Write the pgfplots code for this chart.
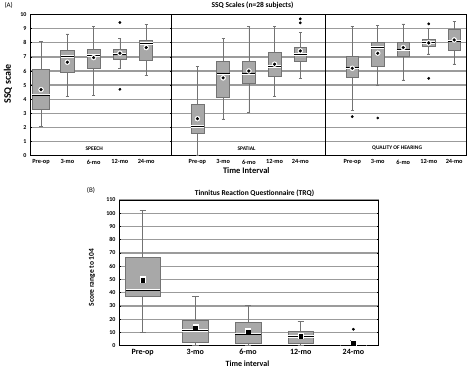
\documentclass[border=0pt]{standalone}
\usepackage{fontspec}
\setmainfont{Carlito}
\usepackage{pgfplots}
\pgfplotsset{compat=1.18}
\usepgfplotslibrary{statistics}
\definecolor{boxfill}{RGB}{168,168,168}
\definecolor{boxdraw}{RGB}{115,115,115}
\definecolor{gridc}{RGB}{155,155,155}
\pgfplotsset{
  common/.style={scale only axis, anchor=south west,
    ymajorgrids, grid style={gridc, line width=1.3pt},
    axis line style={black, line width=0.8pt},
    xtick={0,...,4}, xticklabels={Pre-op,3-mo,6-mo,12-mo,24-mo},
    /pgf/number format/assume math mode=true,
    x tick style={draw=none},
    boxplot/draw direction=y, clip=false},
  topax/.style={common, height=141.2pt, ymin=0, ymax=10, ytick={0,...,10},
    xticklabel style={font=\bfseries\fontsize{6.3}{7}\selectfont, yshift=-0.5pt},
    yticklabel style={font=\bfseries\fontsize{6}{7}\selectfont},
    y tick style={black, line width=0.6pt}, major tick length=2pt},
  bx/.style={fill=boxfill, draw=boxdraw, line width=0.6pt,
    boxplot prepared={#1, whisker extend=0.12,
      every median/.style={draw=black, line width=0.9pt, preaction={draw=white, line width=2.6pt}}}},
  mwhite/.style={only marks, mark=*, mark size=2.5pt, draw=white, fill=white},
  mblack/.style={only marks, mark=*, mark size=1.4pt, black},
  outl/.style={only marks, mark=*, mark size=1.2pt, black},
}
\begin{document}
\begin{tikzpicture}[x=1pt,y=1pt]
\path[use as bounding box] (0,0) rectangle (474,370);
% ---------------- SPEECH
\begin{axis}[topax, at={(30pt,214.3pt)}, width=141.7pt, xmin=-0.42, xmax=4.97]
\addplot[bx={draw position=0, box extend=0.66, lower whisker=2.1, lower quartile=3.26, median=4.3, upper quartile=6.12, upper whisker=8.1}] coordinates {};
\addplot[bx={draw position=1, box extend=0.5, lower whisker=4.18, lower quartile=5.93, median=7.02, upper quartile=7.47, upper whisker=8.63}] coordinates {};
\addplot[bx={draw position=2, box extend=0.5, lower whisker=4.26, lower quartile=6.2, median=7.09, upper quartile=7.54, upper whisker=9.15}] coordinates {};
\addplot[bx={draw position=3, box extend=0.5, lower whisker=6.19, lower quartile=6.8, median=7.19, upper quartile=7.54, upper whisker=8.3}] coordinates {};
\addplot[bx={draw position=4, box extend=0.5, lower whisker=5.7, lower quartile=6.78, median=7.94, upper quartile=8.2, upper whisker=9.29}] coordinates {};
\addplot[outl] coordinates {(3,9.43) (3,4.7)};
\addplot[mwhite] coordinates {(0,4.68) (1,6.62) (2,6.95) (3,7.26) (4,7.66)};
\addplot[mblack] coordinates {(0,4.68) (1,6.62) (2,6.95) (3,7.26) (4,7.66)};
\node[font=\bfseries\fontsize{5.5}{6}\selectfont] at (axis cs:2.02,0.52) {SPEECH};
\end{axis}
% ---------------- SPATIAL
\begin{axis}[topax, at={(171.7pt,214.3pt)}, width=153.8pt, xmin=-1.0, xmax=4.98, yticklabels={}, y tick style={draw=none}]
\addplot[bx={draw position=0, box extend=0.5, lower whisker=0.05, lower quartile=1.6, median=2.06, upper quartile=3.66, upper whisker=6.31}] coordinates {};
\addplot[bx={draw position=1, box extend=0.5, lower whisker=2.6, lower quartile=4.14, median=5.79, upper quartile=6.67, upper whisker=8.3}] coordinates {};
\addplot[bx={draw position=2, box extend=0.5, lower whisker=3.05, lower quartile=5.13, median=5.79, upper quartile=6.71, upper whisker=9.15}] coordinates {};
\addplot[bx={draw position=3, box extend=0.5, lower whisker=4.18, lower quartile=5.6, median=6.31, upper quartile=7.33, upper whisker=9.15}] coordinates {};
\addplot[bx={draw position=4, box extend=0.5, lower whisker=5.48, lower quartile=6.71, median=7.16, upper quartile=7.68, upper whisker=8.72}] coordinates {};
\addplot[outl] coordinates {(4,9.69) (4,9.41)};
\addplot[mwhite] coordinates {(0,2.62) (1,5.51) (2,6.0) (3,6.48) (4,7.42)};
\addplot[mblack] coordinates {(0,2.62) (1,5.51) (2,6.0) (3,6.48) (4,7.42)};
\node[font=\bfseries\fontsize{5.5}{6}\selectfont] at (axis cs:1.91,0.52) {SPATIAL};
\end{axis}
% ---------------- QUALITY OF HEARING
\begin{axis}[topax, at={(325.5pt,214.3pt)}, width=141.2pt, xmin=-1.05, xmax=4.49, yticklabels={}, y tick style={draw=none}]
\addplot[bx={draw position=0, box extend=0.5, lower whisker=3.19, lower quartile=5.56, median=6.22, upper quartile=7.04, upper whisker=9.15}] coordinates {};
\addplot[bx={draw position=1, box extend=0.5, lower whisker=4.96, lower quartile=6.31, median=7.68, upper quartile=8.06, upper whisker=9.24}] coordinates {};
\addplot[bx={draw position=2, box extend=0.5, lower whisker=5.37, lower quartile=7.02, median=7.49, upper quartile=8.06, upper whisker=9.34}] coordinates {};
\addplot[bx={draw position=3, box extend=0.5, lower whisker=7.21, lower quartile=7.78, median=8.01, upper quartile=8.23, upper whisker=9.0}] coordinates {};
\addplot[bx={draw position=4, box extend=0.5, lower whisker=6.5, lower quartile=7.45, median=8.11, upper quartile=8.98, upper whisker=9.53}] coordinates {};
\addplot[outl] coordinates {(0,2.77) (1,2.67) (3,9.34) (3,5.48)};
\addplot[mwhite] coordinates {(0,6.19) (1,7.26) (2,7.66) (3,7.99) (4,8.2)};
\addplot[mblack] coordinates {(0,6.19) (1,7.26) (2,7.66) (3,7.99) (4,8.2)};
\node[font=\bfseries\fontsize{5.5}{6}\selectfont] at (axis cs:1.76,0.52) {QUALITY OF HEARING};
\end{axis}
% ---------------- TRQ
\begin{axis}[common, at={(119pt,24.3pt)}, width=259.7pt, height=145.7pt,
  xmin=-0.45, xmax=4.48, ymin=0, ymax=110, ytick={0,10,...,110},
  xticklabel style={font=\bfseries\fontsize{8}{9}\selectfont, yshift=0pt},
  yticklabel style={font=\bfseries\fontsize{6}{7}\selectfont},
  y tick style={black, line width=0.6pt}, major tick length=2pt]
\addplot[bx={draw position=0, box extend=0.65, lower whisker=10.1, lower quartile=37.2, median=42, upper quartile=67, upper whisker=102.4}] coordinates {};
\addplot[bx={draw position=1, box extend=0.49, lower whisker=0, lower quartile=2.3, median=11.4, upper quartile=19.5, upper whisker=37.2}] coordinates {};
\addplot[bx={draw position=2, box extend=0.49, lower whisker=0, lower quartile=1.5, median=8.85, upper quartile=17.7, upper whisker=30.3}] coordinates {};
\addplot[bx={draw position=3, box extend=0.49, lower whisker=0, lower quartile=1.8, median=6.8, upper quartile=11.1, upper whisker=18.2}] coordinates {};
\addplot[bx={draw position=4, box extend=0.49, lower whisker=0, lower quartile=0, median=0, upper quartile=0.5, upper whisker=3.8}] coordinates {};
\addplot[outl] coordinates {(4,12.4)};
\addplot[only marks, mark=square*, mark size=2.6pt, draw=white, fill=white] coordinates {(0,50.2) (1,14.3) (2,11.2) (3,7.6) (4,2.6)};
\addplot[only marks, mark=square*, mark size=1.8pt, black] coordinates {(0,49.6) (1,13.7) (2,10.6) (3,7.0) (4,2.0)};
\end{axis}
% ---------------- texts
\node[font=\fontsize{7}{8}\selectfont, anchor=west] at (1,365) {(A)};
\node[font=\bfseries\fontsize{7.5}{8}\selectfont] at (252.5,364.3) {SSQ Scales (n=28 subjects)};
\node[font=\bfseries\fontsize{10}{11}\selectfont, rotate=90] at (8,286) {SSQ scale};
\node[font=\bfseries\fontsize{8.5}{9}\selectfont] at (246.3,199) {Time Interval};
\node[font=\fontsize{7}{8}\selectfont] at (91,179.3) {(B)};
\node[font=\bfseries\fontsize{7.5}{8}\selectfont] at (254.5,176.7) {Tinnitus Reaction Questionnaire (TRQ)};
\node[font=\bfseries\fontsize{7.5}{8}\selectfont, rotate=90] at (92,92.5) {Score range to 104};
\node[font=\bfseries\fontsize{8}{9}\selectfont] at (247.5,6.7) {Time interval};
\end{tikzpicture}
\end{document}
